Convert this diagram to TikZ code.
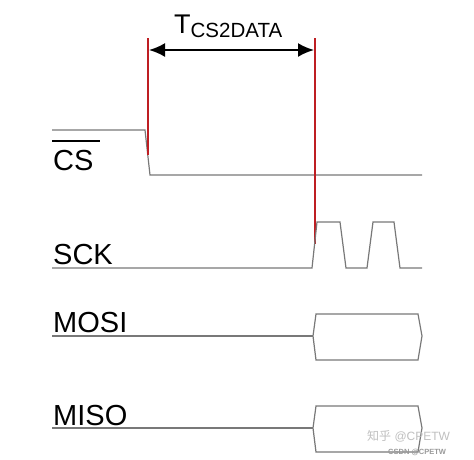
\documentclass[tikz,border=0pt]{standalone}
\usepackage{fontspec}
\setmainfont{Liberation Sans}
\newfontfamily\cjkfont{Noto Sans CJK SC}
\usetikzlibrary{arrows.meta}
\definecolor{sig}{RGB}{120,120,120}
\definecolor{mark}{RGB}{190,30,35}
\begin{document}
\begin{tikzpicture}[x=1pt,y=-1pt,
  wave/.style={draw=sig,line width=1.2pt,line join=miter},
  marker/.style={draw=mark,line width=1.3pt},
  lbl/.style={inner sep=0pt,anchor=base west,font=\fontsize{29}{30}\selectfont},
  dim/.style={line width=2pt,{Latex[length=16pt,width=14pt]}-{Latex[length=16pt,width=14pt]}}]
\useasboundingbox (0,0) rectangle (474,459);
% CS
\draw[wave] (52,130) -- (145,130) -- (150,175) -- (422,175);
\node[lbl] (cs) at (53,170) {CS};
\draw[black,line width=1.3pt] (52,141) -- (100,141);
% markers
\coordinate (m1t) at (148,38);
\coordinate (m1b) at (148,155);
\coordinate (m2t) at (315,38);
\coordinate (m2b) at (315,244);
\draw[marker] (m1t) -- (m1b);
\draw[marker] (m2t) -- (m2b);
\coordinate (a1) at (149,50);
\coordinate (a2) at (314,50);
\draw[dim] (a1) -- (a2);
\node[inner sep=0pt,anchor=base west] (t) at (174,33)
  {\fontsize{27}{28}\selectfont T\raisebox{-4pt}{\fontsize{20.5}{21}\selectfont CS2DATA}};
% SCK
\draw[wave] (52,268) -- (312,268) -- (317,222) -- (340,222) -- (346,268)
  -- (367,268) -- (373,222) -- (394,222) -- (400,268) -- (422,268);
\node[lbl] (sck) at (53,264) {SCK};
% MOSI
\draw[wave] (52,336) -- (313,336);
\draw[wave] (316,314) -- (418,314) -- (422,336) -- (418,360) -- (316,360) -- (313,336) -- cycle;
\node[lbl] (mosi) at (53,332) {MOSI};
% MISO
\draw[wave] (52,428) -- (313,428);
\draw[wave] (316,406) -- (418,406) -- (422,428) -- (418,452) -- (316,452) -- (313,428) -- cycle;
\node[lbl] (miso) at (53,425) {MISO};
% watermark
\node[inner sep=0pt,anchor=base west,text=black!25,font=\fontsize{12}{13}\selectfont] (wm1) at (367,440) {{\cjkfont 知乎} @CPETW};
\node[inner sep=0pt,anchor=base west,text=black!40,font=\bfseries\fontsize{7.5}{8}\selectfont] (wm2) at (388,454) {CSDN @CPETW};
\end{tikzpicture}
\end{document}
